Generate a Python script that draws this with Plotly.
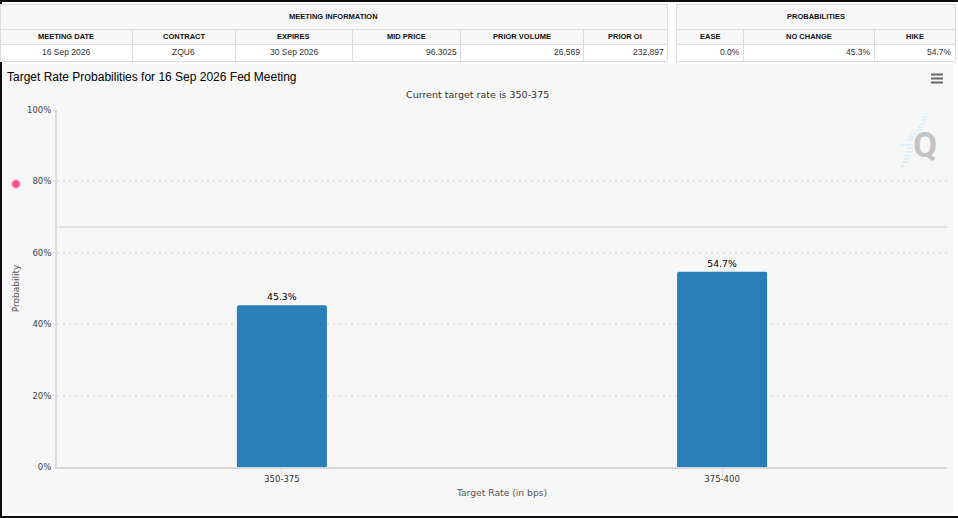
import plotly.graph_objects as go

W, H = 958, 518

target_rates = ["350-375", "375-400"]
probabilities = [45.3, 54.7]
y_ticks = [0, 20, 40, 60, 80, 100]
y_tick_labels = ["0%", "20%", "40%", "60%", "80%", "100%"]

meeting_title = "MEETING INFORMATION"
meeting_headers = ["MEETING DATE", "CONTRACT", "EXPIRES", "MID PRICE", "PRIOR VOLUME", "PRIOR OI"]
meeting_values = ["16 Sep 2026", "ZQU6", "30 Sep 2026", "96.3025", "26,569", "232,897"]
prob_title = "PROBABILITIES"
prob_headers = ["EASE", "NO CHANGE", "HIKE"]
prob_values = ["0.0%", "45.3%", "54.7%"]

meeting_edges = [0, 132, 235, 352, 460, 583, 667]
prob_edges = [676, 743, 874, 955]
meeting_aligns = ["center", "center", "center", "right", "right", "right"]
prob_aligns = ["right", "right", "right"]


def fx(p):
    return p / W


def fy(p):
    return 1 - p / H


shapes = []
annos = []


def rect(x0, y0, x1, y1, fill, line=None, lw=1, layer="below"):
    shapes.append(dict(type="rect", xref="paper", yref="paper", x0=fx(x0), x1=fx(x1), y0=fy(y0), y1=fy(y1),
                       fillcolor=fill, line=dict(color=line or "rgba(0,0,0,0)", width=lw if line else 0), layer=layer))


def seg(x0, y0, x1, y1, color, lw=1, dash="solid", layer="below"):
    shapes.append(dict(type="line", xref="paper", yref="paper", x0=fx(x0), x1=fx(x1), y0=fy(y0), y1=fy(y1),
                       line=dict(color=color, width=lw, dash=dash), layer=layer))


def text(x, y, s, size=7, color="#333", family="Liberation Sans", anchor="center", bold=False):
    annos.append(dict(xref="paper", yref="paper", x=fx(x), y=fy(y), text=f"<b>{s}</b>" if bold else s, showarrow=False,
                      font=dict(size=size, color=color, family=family), xanchor=anchor, yanchor="middle",
                      borderpad=0, borderwidth=0))


# page background and rounded panel
rect(2, 2, 958, 516, "#ffffff")
shapes.append(dict(type="path", xref="paper", yref="paper", layer="below", fillcolor="#f7f7f7", line=dict(width=0),
                   path=f"M {fx(2)} {fy(64)} L {fx(951)} {fy(64)} Q {fx(954)} {fy(64)} {fx(954)} {fy(67)} "
                        f"L {fx(954)} {fy(510)} Q {fx(954)} {fy(513)} {fx(951)} {fy(513)} L {fx(2)} {fy(513)} Z"))


def table(edges, title, headers, values, aligns):
    left, right = edges[0], edges[-1]
    rect(left, 4, right, 29, "#f7f7f7")
    rect(left, 29, right, 44, "#f7f7f7")
    rect(left, 44, right, 61, "#ffffff")
    for y in (4.5, 29.5, 44.5, 61.5):
        seg(left, y, right, y, "#dddddd")
    for x in (left, right):
        seg(x + 0.5, 4, x + 0.5, 61, "#dddddd")
    for x in edges[1:-1]:
        seg(x + 0.5, 29, x + 0.5, 61, "#dddddd")
    text((left + right) / 2, 16.5, title, 7.5, "#111111", bold=True)
    for i, (h, v, a) in enumerate(zip(headers, values, aligns)):
        x0, x1 = edges[i], edges[i + 1]
        text((x0 + x1) / 2, 36.5, h, 7.5, "#111111", bold=True)
        if a == "center":
            text((x0 + x1) / 2, 52.5, v, 8.5, "#333333")
        else:
            text(x1 - 3, 52.5, v, 8.5, "#333333", anchor="right")


table(meeting_edges, meeting_title, meeting_headers, meeting_values, meeting_aligns)
table(prob_edges, prob_title, prob_headers, prob_values, prob_aligns)

text(7, 77, "Target Rate Probabilities for 16 Sep 2026 Fed Meeting", 12, "#000000", anchor="left")
text(477, 94.5, "Current target rate is 350-375", 9.5, "#333333", "DejaVu Sans")

# menu icon
for y in (74.5, 78.5, 82.5):
    seg(931, y, 943, y, "#666666", 2, layer="above")

# pink dot
shapes.append(dict(type="circle", xref="paper", yref="paper", x0=fx(11.5), x1=fx(20.5), y0=fy(179.5), y1=fy(188.5),
                   fillcolor="#f45b96", line=dict(color="#fbdce8", width=1), layer="above"))

# logo
for y, x0, x1 in [(114, 926, 928), (117, 923, 927), (120, 922, 926), (124, 920, 925), (127, 918, 923), (130, 916, 923),
                  (134, 910, 916), (137, 908, 915), (140, 905, 914), (145, 900, 913), (148, 907, 913), (152, 906, 912),
                  (156, 905, 911), (159, 904, 909), (162, 903, 907), (166, 901, 904), (168, 900, 902)]:
    seg(x0, y, x1, y, "#d4eefa", 1.5)
text(925, 145, "Q", 35, "#c4c4c4", "Roboto", bold=True)

# plot frame
seg(57, 227, 947, 227, "#e2e2e2", 2)

fig = go.Figure(go.Bar(
    x=target_rates, y=probabilities,
    text=[f"{v:.1f}%" for v in probabilities], textposition="outside",
    textfont=dict(size=9.3, color="#000000", family="DejaVu Sans"),
    cliponaxis=False, width=0.2045,
    marker=dict(color="#2a7fb8", cornerradius=2, line=dict(width=0)),
    hoverinfo="x+y",
))

fig.update_layout(
    width=W, height=H, autosize=False,
    margin=dict(l=0, r=0, t=0, b=0, pad=0),
    paper_bgcolor="#0e0e0e", plot_bgcolor="rgba(0,0,0,0)",
    showlegend=False, shapes=shapes, annotations=annos,
    xaxis=dict(domain=[fx(57), fx(947)], type="category", range=[-0.511, 1.511], showgrid=False, automargin=False,
               showline=True, linecolor="#d4d6da", linewidth=2, ticks="outside", ticklen=7, tickcolor="#dddddd",
               ticklabelstandoff=-4,
               tickfont=dict(size=8.5, color="#333333", family="DejaVu Sans"), zeroline=False,
               title=dict(text="Target Rate (in bps)", standoff=6, font=dict(size=9.2, color="#555555", family="DejaVu Sans"))),
    yaxis=dict(domain=[fy(467), fy(110)], range=[0, 100], tickvals=y_ticks, ticktext=y_tick_labels, automargin=False,
               showgrid=True, gridcolor="#e4e4e4", griddash="1.5px,4.5px", gridwidth=1.5, zeroline=False,
               showline=True, linecolor="#dcdcdc", linewidth=2, ticks="outside", ticklen=2, tickcolor="#e0e0e0",
               tickfont=dict(size=8.5, color="#444444", family="DejaVu Sans"),
               title=dict(text="Probability", standoff=6, font=dict(size=9, color="#555555", family="DejaVu Sans"))),
)

fig.write_html("out.html", config=dict(displayModeBar=False),
               post_script="document.body.style.margin='0';document.body.style.overflow='hidden';")
